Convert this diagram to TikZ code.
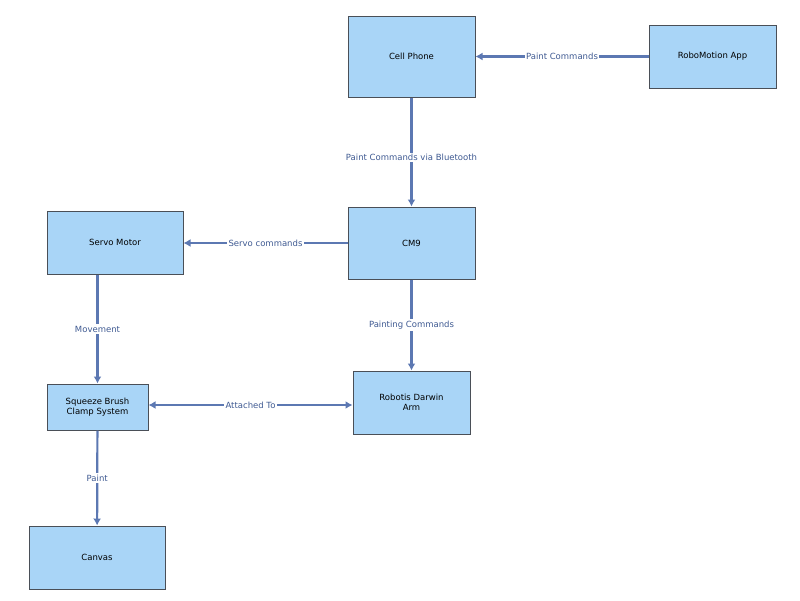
\documentclass[tikz,border=0pt]{standalone}
\usepackage{fontspec}
\setmainfont{DejaVu Sans}
\usetikzlibrary{arrows.meta}
\definecolor{boxf}{HTML}{A9D5F7}
\definecolor{boxd}{HTML}{4A4F57}
\definecolor{arr}{HTML}{5C78B2}
\definecolor{lab}{HTML}{3F5A92}
\begin{document}
\begin{tikzpicture}[x=1pt,y=-1pt,
 box/.style={draw=boxd,fill=boxf,line width=1pt,font=\fontsize{8.5}{10}\selectfont,align=center,inner sep=0pt},
 con/.style={draw=arr,line width=2.2pt,-{Latex[length=7pt,width=8pt]}},
 lbl/.style={fill=white,text=lab,font=\fontsize{8.5}{10}\selectfont,inner sep=1.5pt}]
\path[use as bounding box] (0,0) rectangle (800,600);
\node[box,minimum width=127,minimum height=81] (cell) at (411.5,56.5) {Cell Phone};
\node[box,minimum width=127,minimum height=63] (app) at (712.5,56.5) {RoboMotion App};
\node[box,minimum width=127,minimum height=72] (cm9) at (411.5,243) {CM9};
\node[box,minimum width=136,minimum height=63] (servo) at (115,242.5) {Servo Motor};
\node[box,minimum width=101,minimum height=46] (sq) at (97.5,407) {Squeeze Brush\\Clamp System};
\node[box,minimum width=117,minimum height=63] (arm) at (411.5,402.5) {Robotis Darwin\\Arm};
\node[box,minimum width=136,minimum height=63] (canvas) at (97,557.5) {Canvas};
\draw[con] (app) -- node[lbl]{Paint Commands} (cell);
\draw[con] (cell) -- node[lbl,pos=0.55]{Paint Commands via Bluetooth} (cm9);
\draw[con] (cm9.west) -- node[lbl,pos=0.5]{Servo commands} (servo.east|-cm9.west);
\draw[con] (servo.south-|sq) -- node[lbl,pos=0.5]{Movement} (sq);
\draw[con] (cm9) -- node[lbl,pos=0.5]{Painting Commands} (arm);
\draw[con,{Latex[length=7pt,width=8pt]}-{Latex[length=7pt,width=8pt]}] (sq.east|-0,405) -- node[lbl]{Attached To} (arm.west|-0,405);
\draw[con] (sq) -- node[lbl]{Paint} (canvas);
\end{tikzpicture}
\end{document}
